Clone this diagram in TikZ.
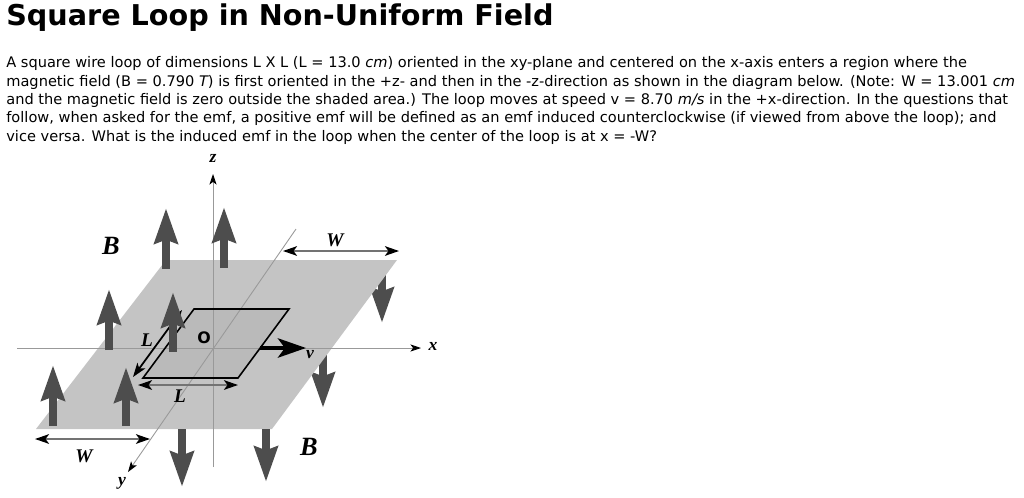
\documentclass[tikz,border=0pt]{standalone}
\usepackage{fontspec}
\setmainfont{DejaVu Sans}
\newfontfamily\figfont{Liberation Serif}
\usetikzlibrary{arrows.meta}
\tikzset{
  titletext/.style={anchor=base west,inner sep=0pt,font=\fontsize{16.3pt}{20pt}\selectfont\bfseries},
  bodytext/.style={anchor=base west,inner sep=0pt,font=\fontsize{8.3pt}{10pt}\selectfont},
  figlabel/.style={inner sep=0pt,font=\fontsize{10pt}{11pt}\selectfont\figfont\bfseries\itshape},
  midlabel/.style={inner sep=0pt,font=\fontsize{11pt}{12pt}\selectfont\figfont\bfseries\itshape},
  biglabel/.style={inner sep=0pt,font=\fontsize{15pt}{16pt}\selectfont\figfont\bfseries\itshape},
  fieldarrow/.style={draw=fieldgray,line width=4.5pt,-{Stealth[length=20pt,width=13pt,inset=2pt]}},
  dimarrow/.style={draw=black!55,line width=1pt,{Stealth[black,length=8pt,width=5.5pt,inset=2pt]}-{Stealth[black,length=8pt,width=5.5pt,inset=2pt]}},
  axisline/.style={draw=black!40,line width=0.5pt,-{Stealth[black,length=6pt,width=4pt,inset=1.5pt]}}
}
\definecolor{fieldgray}{HTML}{4D4D4D}
\definecolor{planegray}{HTML}{C4C4C4}
\definecolor{loopgray}{HTML}{BABABA}
\begin{document}
\begin{tikzpicture}[x=0.02cm,y=-0.02cm]
\useasboundingbox (0,0) rectangle (1024,497);

% problem text
\node[titletext] (title) at (6,26) {Square Loop in Non-Uniform Field};
\node[bodytext] (lineA) at (6,67.5) {A square wire loop of dimensions L X L (L = 13.0 {\itshape cm}) oriented in the xy-plane and centered on the x-axis enters a region where the};
\node[bodytext] (lineB) at (6,86) {magnetic field (B = 0.790 {\itshape T}) is first oriented in the +z- and then in the -z-direction as shown in the diagram below. (Note: W = 13.001 {\itshape cm}};
\node[bodytext] (lineC) at (6,104.5) {and the magnetic field is zero outside the shaded area.) The loop moves at speed v = 8.70 {\itshape m/s} in the +x-direction. In the questions that};
\node[bodytext] (lineD) at (6,122.5) {follow, when asked for the emf, a positive emf will be defined as an emf induced counterclockwise (if viewed from above the loop); and};
\node[bodytext] (lineE) at (6,141) {vice versa. What is the induced emf in the loop when the center of the loop is at x = -W?};

% down arrows behind the plane
\draw[fieldarrow] (382,262) -- (382,323);
\draw[fieldarrow] (323,340) -- (323,408);

% axis ends
\coordinate (xstart) at (17,348);
\coordinate (xend) at (421,348);
\coordinate (ystart) at (296,229);
\coordinate (yend) at (128,472);
\coordinate (zstart) at (213,467);
\coordinate (zend) at (213,174);

% shaded plane and loop
\fill[planegray] (36,429) -- (166,260) -- (397,260) -- (272,429) -- cycle;
\fill[loopgray] (143,378) -- (194,309) -- (289,309) -- (238,378) -- cycle;

\draw[axisline] (xstart) -- (xend);
\draw[axisline] (ystart) -- (yend);
\draw[axisline] (zstart) -- (zend);

\draw[black,line width=0.9pt] (143,378) -- (194,309) -- (289,309) -- (238,378) -- cycle;

% widths
\coordinate (wtopa) at (283,251);
\coordinate (wtopb) at (399,251);
\coordinate (wbota) at (35,439);
\coordinate (wbotb) at (150,439);
\coordinate (lxa) at (138,385);
\coordinate (lxb) at (238,385);
\coordinate (lya) at (182,310);
\coordinate (lyb) at (133,377);
\draw[dimarrow] (wtopa) -- (wtopb);
\draw[dimarrow] (wbota) -- (wbotb);
\draw[dimarrow] (lxa) -- (lxb);
\draw[dimarrow,draw=black] (lya) -- (lyb);

% up arrows
\draw[fieldarrow] (166,269) -- (166,208);
\draw[fieldarrow] (224,268) -- (224,207);
\draw[fieldarrow] (109,350) -- (109,289);
\draw[fieldarrow] (173,352) -- (173,292);
\draw[fieldarrow] (53,426) -- (53,365);
\draw[fieldarrow] (126,426) -- (126,367);

% down arrows in front
\draw[fieldarrow] (182,429) -- (182,487);
\draw[fieldarrow] (266,429) -- (266,482);

% loop speed
\draw[black,line width=2.2pt,-{Stealth[length=16pt,width=11pt,inset=4pt]}] (260,348) -- (306,348);

\node[figlabel] (zlabel) at (213,158) {z};
\node[figlabel] (xlabel) at (433,346) {x};
\node[figlabel] (ylabel) at (122,483) {y};
\node[figlabel] (vlabel) at (310,355) {v};
\node[midlabel] (wlabela) at (335,240) {W};
\node[midlabel] (wlabelb) at (84,456) {W};
\node[midlabel] (llabela) at (147,340) {L};
\node[midlabel] (llabelb) at (180,396) {L};
\node[biglabel] (blabela) at (111,246) {B};
\node[biglabel] (blabelb) at (309,447) {B};
\node[inner sep=0pt,font=\fontsize{9pt}{10pt}\selectfont\bfseries] (olabel) at (204,338) {O};
\end{tikzpicture}
\end{document}
